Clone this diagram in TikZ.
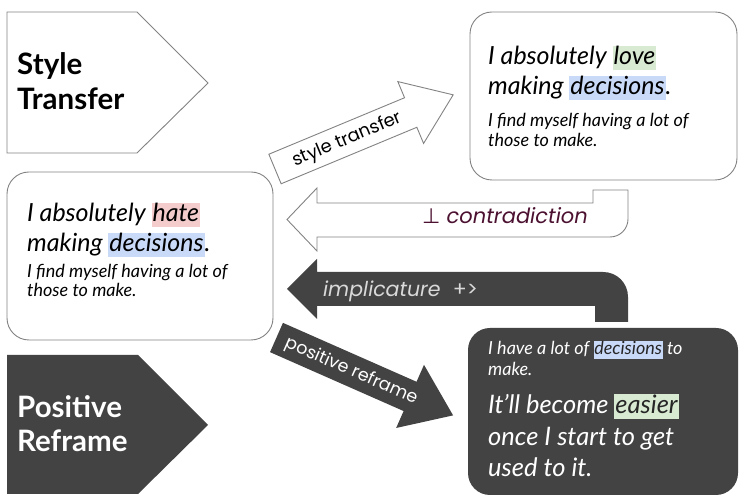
\documentclass[tikz,border=0pt]{standalone}
\usepackage{fontspec}
\setmainfont{Lato}
\newfontfamily\arrowfont{Poppins}
\newfontfamily\symfont{DejaVu Sans}
\definecolor{dark}{HTML}{434343}
\definecolor{edge}{HTML}{838383}
\definecolor{hlred}{HTML}{F4CCCC}
\definecolor{hlblue}{HTML}{C9DAF8}
\definecolor{hlgreen}{HTML}{D9EAD3}
\definecolor{maroonc}{HTML}{4C1130}
\definecolor{lightt}{HTML}{D9D9D9}
\newcommand{\hl}[2]{{\setlength{\fboxsep}{0pt}\colorbox{#1}{\rule[-0.2em]{0pt}{0.97em}\kern0.04em#2\kern0.04em}}}
\begin{document}
\begin{tikzpicture}[x=1pt,y=-1pt,
  txt/.style={inner sep=0pt,anchor=base west},
  head/.style={txt,font=\bfseries\fontsize{29.5}{29.5}\selectfont},
  big/.style={txt,font=\itshape\fontsize{25}{25}\selectfont},
  small/.style={txt,font=\itshape\fontsize{18}{18}\selectfont},
  ebig/.style={txt,text=white,font=\itshape\fontsize{25.5}{25.5}\selectfont},
  esmall/.style={txt,text=white,font=\itshape\fontsize{18}{18}\selectfont},
  outl/.style={draw=edge,fill=white,line width=0.9pt},
  lbl/.style={inner sep=0pt,font=\arrowfont\fontsize{18}{18}\selectfont}]
\useasboundingbox (0,0) rectangle (748,502);
\fill[white] (0,0) rectangle (748,502);

% section tags
\draw[outl] (7,12) -- (137,12) -- (208,83) -- (137,153) -- (7,153) -- cycle;
\node[head] (st1) at (17,75) {Style};
\node[head] (st2) at (17,110) {Transfer};
\fill[dark] (7,355) -- (138,355) -- (208,425) -- (138,494) -- (7,494) -- cycle;
\node[head,text=white] (pr1) at (17,418) {Positive};
\node[head,text=white] (pr2) at (17,452) {Reframe};

% boxes
\draw[outl,rounded corners=22pt] (7,172) rectangle (273,340);
\node[big] (h1) at (27,222) {I absolutely \hl{hlred}{hate}};
\node[big] (h2) at (27,252) {making \hl{hlblue}{decisions}.};
\node[small] (h3) at (27,278) {I find myself having a lot of};
\node[small] (h4) at (27,297) {those to make.};

\draw[outl,rounded corners=22pt] (470,12) rectangle (737,180);
\node[big] (l1) at (488,65) {I absolutely \hl{hlgreen}{love}};
\node[big] (l2) at (488,95) {making \hl{hlblue}{decisions}.};
\node[small] (l3) at (488,127) {I find myself having a lot of};
\node[small] (l4) at (488,147) {those to make.};

\fill[dark,rounded corners=22pt] (468,328) rectangle (738,495);
\node[esmall] (e1) at (488,355) {I have a lot of \hl{hlblue}{\color{black!85}decisions} to};
\node[esmall] (e2) at (488,376) {make.};
\node[ebig] (e3) at (488,414) {It’ll become \hl{hlgreen}{\color{black!85}easier}};
\node[ebig] (e4) at (488,446) {once I start to get};
\node[ebig] (e5) at (488,477) {used to it.};

% contradiction arrow
\draw[outl] (628,190) -- (593,190) -- (593,203) -- (317,203) -- (317,188) -- (287,219.5) -- (317,251) -- (317,237) -- (610,237) .. controls (620,237) and (628,229) .. (628,219) -- cycle;
\node[inner sep=0pt,anchor=base east,text=maroonc,font=\arrowfont\itshape\fontsize{21}{21}\selectfont] (ctr) at (588,224) {{\symfont\upshape ⊥}\hspace{0.3em}contradiction};

% implicature arrow
\fill[dark] (317,272) -- (603,272) .. controls (617,272) and (628,283) .. (628,297) -- (628,322) -- (595,322) -- (595,306) -- (317,306) -- (317,319) -- (287,289) -- (317,259) -- cycle;
\node[inner sep=0pt,anchor=base west,text=lightt,font=\arrowfont\itshape\fontsize{20.5}{20.5}\selectfont] (imp) at (323,297) {implicature\hspace{0.6em}{\upshape +>}};

% style transfer arrow
\begin{scope}[shift={(275,169)},rotate=22.6]
\draw[outl] (0,-16) -- (147,-16) -- (147,-33.5) -- (193,0) -- (147,33.5) -- (147,16) -- (0,16) -- cycle;
\node[lbl,rotate=22.6] (stl) at (78,1) {style transfer};
\end{scope}

% positive reframe arrow
\begin{scope}[shift={(276.5,337.5)},rotate=-23.8]
\fill[dark] (0,-16) -- (146,-16) -- (146,-34.5) -- (193,0) -- (146,34.5) -- (146,16) -- (0,16) -- cycle;
\node[lbl,rotate=-23.8,text=white,font=\arrowfont\fontsize{17.5}{17.5}\selectfont] (prl) at (82,1) {positive reframe};
\end{scope}
\end{tikzpicture}
\end{document}
